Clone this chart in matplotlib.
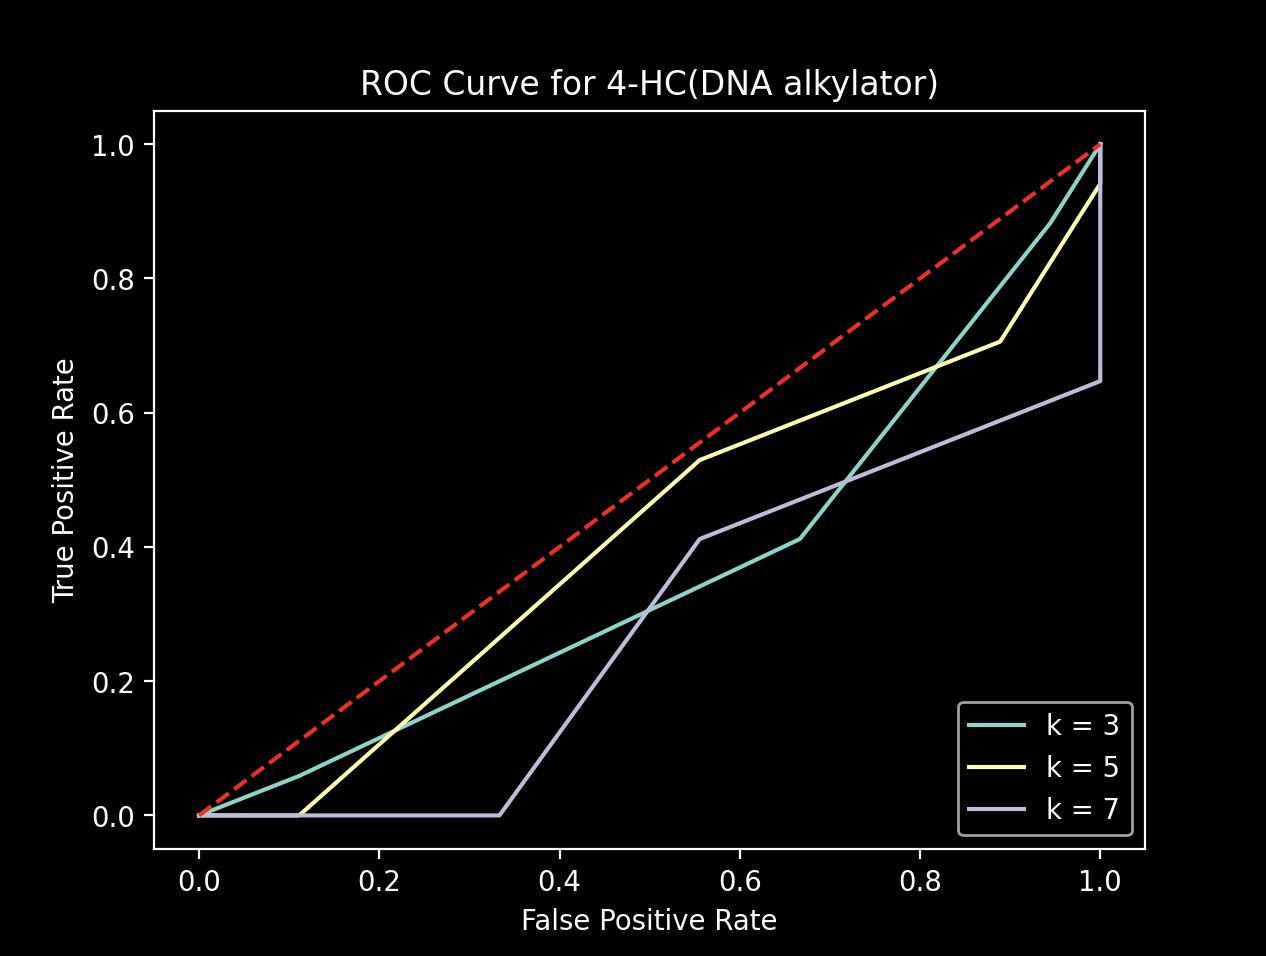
import matplotlib
matplotlib.use("Agg")
import matplotlib.pyplot as plt

plt.style.use("dark_background")

# ROC points (9 negatives, 17 positives)
fpr_k3 = [0.0, 1/9, 6/9, 17/18, 1.0]
tpr_k3 = [0.0, 1/17, 7/17, 15/17, 1.0]

fpr_k5 = [0.0, 1/9, 5/9, 8/9, 1.0, 1.0]
tpr_k5 = [0.0, 0.0, 9/17, 12/17, 16/17, 1.0]

fpr_k7 = [0.0, 3/9, 5/9, 1.0, 1.0]
tpr_k7 = [0.0, 0.0, 7/17, 11/17, 1.0]

fig, ax = plt.subplots(figsize=(1266.4 / 198, 956.4 / 198), dpi=198)
fig.subplots_adjust(left=0.1216, right=0.9044, top=0.8839, bottom=0.1119)

ax.plot(fpr_k3, tpr_k3, label="k = 3")
ax.plot(fpr_k5, tpr_k5, label="k = 5")
ax.plot(fpr_k7, tpr_k7, label="k = 7")
ax.plot([0, 1], [0, 1], "--", color="#ee3124")

ax.set_xlabel("False Positive Rate")
ax.set_ylabel("True Positive Rate")
ax.set_title("ROC Curve for 4-HC(DNA alkylator)")
ax.legend(loc="lower right")

fig.savefig("out.png", dpi=198)
